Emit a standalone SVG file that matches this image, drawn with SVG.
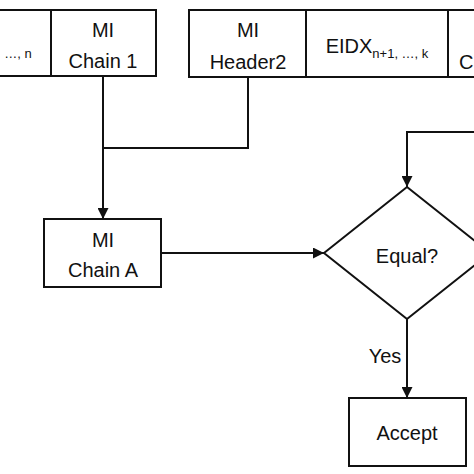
<svg xmlns="http://www.w3.org/2000/svg" width="474" height="474" viewBox="0 0 474 474">
<style>
.box{fill:#fff;stroke:#111;stroke-width:2}
.t{font-family:"Liberation Sans",Arial,sans-serif;font-size:20px;fill:#111;text-anchor:middle}
.sub{font-size:13px}
.c{fill:none;stroke:#111;stroke-width:2}
</style>
<defs>
<marker id="ah" viewBox="0 0 10 10" refX="10" refY="5" markerWidth="11" markerHeight="11" markerUnits="userSpaceOnUse" orient="auto">
<path d="M0,0 L10,5 L0,10 Z" fill="#111"/>
</marker>
</defs>
<rect width="474" height="474" fill="#fff"/>
<g id="eidx1">
<rect class="box" x="-10" y="10" width="61" height="66"/>
<text class="t sub" x="18" y="58">…, n</text>
</g>
<g id="chain1">
<rect class="box" x="51" y="10" width="105" height="66"/>
<text class="t" x="103" y="37">MI</text>
<text class="t" x="103" y="68">Chain 1</text>
</g>
<g id="header2">
<rect class="box" x="189" y="10" width="117" height="67"/>
<text class="t" x="248" y="37">MI</text>
<text class="t" x="248" y="69">Header2</text>
</g>
<g id="eidx2">
<rect class="box" x="306" y="10" width="142" height="67"/>
<text class="t" x="377" y="53">EIDX<tspan class="sub" dy="5">n+1, …, k</tspan></text>
</g>
<g id="chain2">
<rect class="box" x="448" y="10" width="60" height="67"/>
<text class="t" x="459" y="69" style="text-anchor:start">C</text>
</g>
<g id="chainA">
<rect class="box" x="44" y="219" width="117" height="68"/>
<text class="t" x="103" y="247">MI</text>
<text class="t" x="103" y="277">Chain A</text>
</g>
<g id="equal">
<path class="box" d="M324,253 L407,187 L490,253 L407,319 Z"/>
<text class="t" x="407" y="263">Equal?</text>
</g>
<g id="accept">
<rect class="box" x="349" y="398" width="117" height="68"/>
<text class="t" x="407" y="440">Accept</text>
</g>
<g id="connectors">
<path class="c" d="M103,76 L103,219" marker-end="url(#ah)"/>
<path class="c" d="M248,77 L248,148 L103,148"/>
<path class="c" d="M161,253 L324,253" marker-end="url(#ah)"/>
<path class="c" d="M480,132 L407,132 L407,187" marker-end="url(#ah)"/>
<path class="c" d="M407,319 L407,398" marker-end="url(#ah)"/>
<text class="t" x="385" y="363">Yes</text>
</g>
</svg>
